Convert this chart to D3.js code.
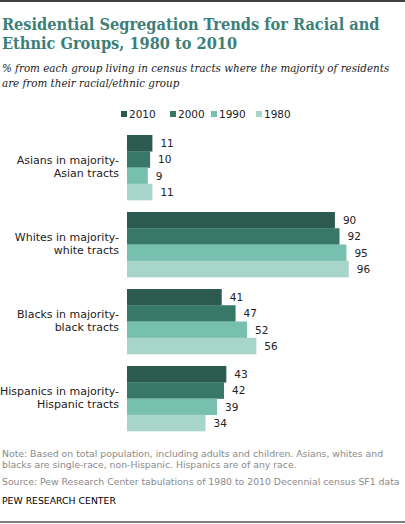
<!DOCTYPE html>
<html>
<head>
<meta charset="utf-8">
<script src="https://cdn.jsdelivr.net/npm/d3@7"></script>
<style>
body { margin: 0; background: #fff; }
svg { display: block; }
</style>
</head>
<body>
<svg id="chart" width="405" height="524"></svg>
<script>
// data
var groups = ["Asians", "Whites", "Blacks", "Hispanics"];
var groupLabels = [
    ["Asians in majority-", "Asian tracts"],
    ["Whites in majority-", "white tracts"],
    ["Blacks in majority-", "black tracts"],
    ["Hispanics in majority-", "Hispanic tracts"]
];
var years = ["2010", "2000", "1990", "1980"];
var v2010 = [11, 90, 41, 43];
var v2000 = [10, 92, 47, 42];
var v1990 = [9, 95, 52, 39];
var v1980 = [11, 96, 56, 34];
var yearColors = ["#2c5a4f", "#387869", "#77bfae", "#a7d5c9"];

var series = [v2010, v2000, v1990, v1980];

var svg = d3.select("#chart");

// rules top and bottom
svg.append("line")
    .attr("x1", 0).attr("x2", 405)
    .attr("y1", 1).attr("y2", 1)
    .attr("stroke", "#000").attr("stroke-width", 1.5);
svg.append("line")
    .attr("x1", 0).attr("x2", 405)
    .attr("y1", 522).attr("y2", 522)
    .attr("stroke", "#000").attr("stroke-width", 1.2);

// title
var title = ["Residential Segregation Trends for Racial and", "Ethnic Groups, 1980 to 2010"];
svg.selectAll(".title")
    .data(title)
    .enter()
    .append("text")
    .attr("class", "title")
    .attr("x", 2)
    .attr("y", (d, i) => 30 + i * 19)
    .text(d => d)
    .style("font-family", "'DejaVu Serif Condensed', 'DejaVu Serif', serif")
    .style("font-stretch", "condensed")
    .style("font-weight", "bold")
    .style("font-size", "16.2px")
    .style("fill", "#3c7f78");

var subtitle = ["% from each group living in census tracts where the majority of residents",
    "are from their racial/ethnic group"];
svg.selectAll(".subtitle")
    .data(subtitle)
    .enter()
    .append("text")
    .attr("class", "subtitle")
    .attr("x", 2)
    .attr("y", (d, i) => 72 + i * 15)
    .text(d => d)
    .style("font-family", "'DejaVu Serif Condensed', 'DejaVu Serif', serif")
    .style("font-stretch", "condensed")
    .style("font-style", "italic")
    .style("font-size", "11.5px")
    .style("fill", "#222");

// legend
var legendX = [121, 170, 211, 256];
var legend = svg.selectAll(".legend")
    .data(years)
    .enter()
    .append("g")
    .attr("class", "legend")
    .attr("transform", (d, i) => "translate(" + legendX[i] + ",111)");
legend.append("rect")
    .attr("width", 6)
    .attr("height", 6)
    .attr("fill", (d, i) => yearColors[i]);
legend.append("text")
    .attr("x", 8)
    .attr("y", 7)
    .text(d => d)
    .style("font-family", "'DejaVu Sans', sans-serif")
    .style("font-size", "10.5px")
    .style("fill", "#222");

// scales
var x = d3.scaleLinear()
    .domain([0, 100])
    .range([127, 358]);

var y0 = d3.scaleBand()
    .domain(groups)
    .range([135, 431])
    .paddingInner(12 / 77)
    .paddingOuter(0);

var y1 = d3.scaleBand()
    .domain(years)
    .range([0, y0.bandwidth()]);

var g = svg.selectAll(".group")
    .data(groups)
    .enter()
    .append("g")
    .attr("class", "group")
    .attr("transform", d => "translate(0," + y0(d) + ")");

years.forEach(function(yr, k) {
    g.append("rect")
        .attr("x", x(0))
        .attr("y", y1(yr))
        .attr("width", (d, i) => x(series[k][i]) - x(0))
        .attr("height", y1.bandwidth() + 0.3)
        .attr("fill", yearColors[k]);
    g.append("text")
        .attr("x", (d, i) => x(series[k][i]) + 8)
        .attr("y", y1(yr) + y1.bandwidth() / 2 + 4)
        .text((d, i) => series[k][i])
        .style("font-family", "'DejaVu Sans', sans-serif")
        .style("font-size", "10.5px")
        .style("fill", "#222");
});

// category labels
g.each(function(d, i) {
    var lab = d3.select(this).append("text")
        .attr("text-anchor", "end")
        .style("font-family", "'DejaVu Sans', sans-serif")
        .style("font-size", "11px")
        .style("fill", "#222");
    groupLabels[i].forEach(function(line, j) {
        lab.append("tspan")
            .attr("x", 119)
            .attr("y", y0.bandwidth() / 2 - 3.5 + j * 13)
            .text(line);
    });
});

// notes
var notes = [
    {t: "Note: Based on total population, including adults and children. Asians, whites and", y: 457, c: "#8a8a8a"},
    {t: "blacks are single-race, non-Hispanic. Hispanics are of any race.", y: 467.5, c: "#8a8a8a"},
    {t: "Source: Pew Research Center tabulations of 1980 to 2010 Decennial census SF1 data", y: 485, c: "#8a8a8a"},
    {t: "PEW RESEARCH CENTER", y: 504, c: "#000"}
];
svg.selectAll(".note")
    .data(notes)
    .enter()
    .append("text")
    .attr("class", "note")
    .attr("x", 2)
    .attr("y", d => d.y)
    .text(d => d.t)
    .style("font-family", "'DejaVu Sans', sans-serif")
    .style("font-size", "9.3px")
    .style("fill", d => d.c);
</script>
</body>
</html>
